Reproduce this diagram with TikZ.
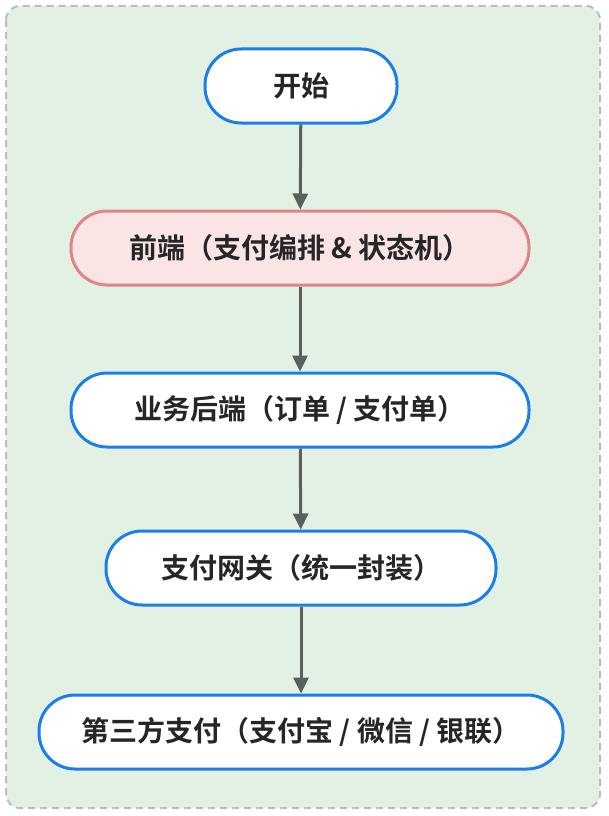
\documentclass[tikz,border=0pt]{standalone}
\usepackage{fontspec}
\setmainfont{Noto Sans CJK SC}[BoldFont={* Bold}]
\usetikzlibrary{arrows.meta}
\definecolor{bgfill}{HTML}{E3F1E5}
\definecolor{bgline}{HTML}{BDBDBD}
\definecolor{blueline}{HTML}{1A7FE8}
\definecolor{redfill}{HTML}{FAE4E4}
\definecolor{redline}{HTML}{E08585}
\definecolor{arr}{HTML}{5B605B}
\begin{document}
\begin{tikzpicture}[x=1pt,y=-1pt,
  box/.style={draw=blueline,line width=3pt,fill=white,rounded corners=36pt,minimum height=74pt,inner sep=0pt,font=\bfseries\fontsize{28}{32}\selectfont,text=black!85},
  red/.style={draw=redline,fill=redfill},
  ar/.style={draw=arr,line width=3pt,-{Triangle[length=16pt,width=15pt]}}]
\useasboundingbox (0,0) rectangle (608,816);
\draw[bgline,dashed,line width=2pt,dash pattern=on 7pt off 5pt,fill=bgfill,rounded corners=14pt] (6,6) rectangle (600,808);
\node[box,minimum width=192pt] (s) at (301,86) {开始};
\node[box,red,minimum width=458pt] (f) at (300,248) {前端（支付编排 \& 状态机）};
\node[box,minimum width=458pt] (b) at (300,410) {业务后端（订单 / 支付单）};
\node[box,minimum width=390pt] (g) at (301,568) {支付网关（统一封装）};
\node[box,minimum width=524pt] (t) at (301,732) {第三方支付（支付宝 / 微信 / 银联）};
\draw[ar] (s) -- (f);
\draw[ar] (f) -- (b);
\draw[ar] (b) -- (g);
\draw[ar] (g) -- (t);
\end{tikzpicture}
\end{document}
